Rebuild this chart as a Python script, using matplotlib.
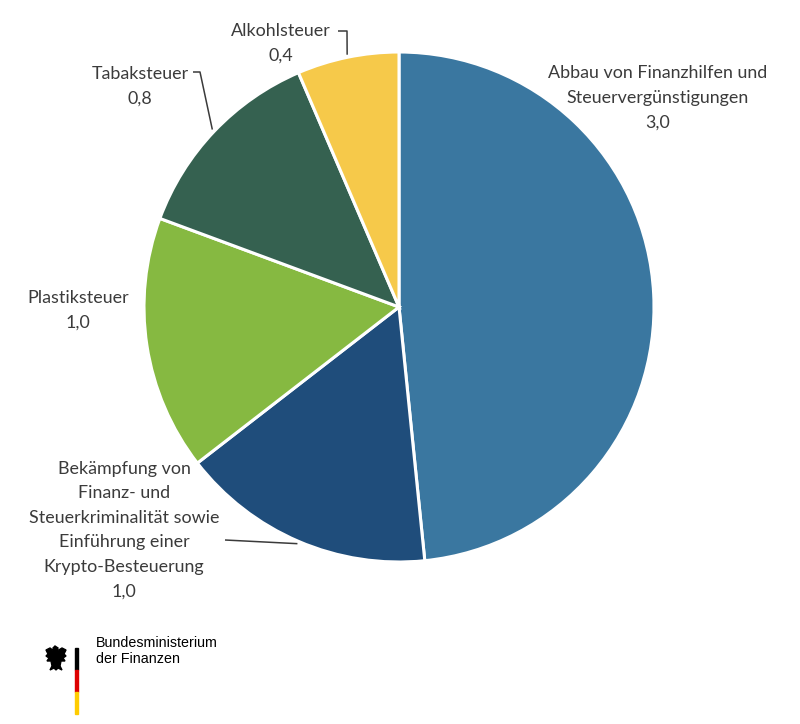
import numpy as np
import matplotlib
matplotlib.use("Agg")
import matplotlib.pyplot as plt
from matplotlib.patches import Polygon, Rectangle

# data (Mrd. Euro)
labels = [
    "Abbau von Finanzhilfen und\nSteuervergünstigungen",
    "Bekämpfung von\nFinanz- und\nSteuerkriminalität sowie\nEinführung einer\nKrypto-Besteuerung",
    "Plastiksteuer",
    "Tabaksteuer",
    "Alkohlsteuer",
]
values = [3.0, 1.0, 1.0, 0.8, 0.4]
colors = ["#3a77a0", "#1f4d7b", "#86b941", "#356150", "#f6c94a"]

W, H = 800, 724
fig = plt.figure(figsize=(W / 100, H / 100), dpi=100)

cx, cy, R = 399, 307, 255
ax = fig.add_axes([(cx - R) / W, (H - cy - R) / H, 2 * R / W, 2 * R / H])

wedges, _ = ax.pie(values, colors=colors, startangle=90, counterclock=False,
                   radius=1, wedgeprops=dict(edgecolor="white", linewidth=2.2))
ax.set_xlim(-1, 1)
ax.set_ylim(-1, 1)
ax.set_aspect("equal")
ax.axis("off")


def px(x, y):
    # pixel position in the picture -> data coords of the pie axes
    return (x - cx) / R, (cy - y) / R


def edge(w, r=1.0):
    a = np.deg2rad((w.theta1 + w.theta2) / 2)
    return r * np.cos(a), r * np.sin(a)


txt = dict(fontsize=12.9, color="#3b3b3b", family=["Lato", "DejaVu Sans"],
           ha="center", va="center", linespacing=1.66, clip_on=False)
fmt = lambda v: f"{v:.1f}".replace(".", ",")

label_pos = [px(658, 98), px(124, 530), px(78, 310), px(140, 86), px(281, 43)]
for lab, v, pos in zip(labels, values, label_pos):
    ax.text(pos[0], pos[1], f"{lab}\n{fmt(v)}", **txt)

lk = dict(color="#3b3b3b", lw=1.1, clip_on=False, solid_capstyle="butt")
# Alkohlsteuer leader
ex, ey = edge(wedges[4], 1.01)
p0, p1 = px(338, 31), px(347, 31)
ax.plot([p0[0], p1[0], ex], [p0[1], p1[1], ey], **lk)
# Tabaksteuer leader
ex, ey = edge(wedges[3], 1.01)
p0, p1 = px(193, 72), px(200, 72)
ax.plot([p0[0], p1[0], ex], [p0[1], p1[1], ey], **lk)
# Bekämpfung leader
ex, ey = edge(wedges[1], 1.01)
p0 = px(225, 540)
ax.plot([p0[0], ex], [p0[1], ey], **lk)

# logo
fig.add_artist(Rectangle((75 / W, 1 - 670 / H), 3 / W, 22 / H, color="black",
                         transform=fig.transFigure))
fig.add_artist(Rectangle((75 / W, 1 - 692 / H), 3 / W, 22 / H, color="#dd0000",
                         transform=fig.transFigure))
fig.add_artist(Rectangle((75 / W, 1 - 714 / H), 3 / W, 22 / H, color="#ffcc00",
                         transform=fig.transFigure))
eagle = [(55, 646), (58, 648), (57, 651), (62, 648), (66, 650), (64, 654), (66, 656),
         (63, 658), (65, 661), (61, 661), (60, 666), (62, 670), (58, 668), (56, 670),
         (54, 668), (50, 670), (52, 666), (51, 661), (47, 661), (49, 658), (46, 656),
         (48, 654), (46, 650), (50, 648), (54, 651), (53, 648)]
fig.add_artist(Polygon([(x / W, 1 - y / H) for x, y in eagle], closed=True,
                       color="black", transform=fig.transFigure))
fig.text(96 / W, 1 - 651 / H, "Bundesministerium\nder Finanzen", fontsize=10.3,
         family=["Liberation Sans", "DejaVu Sans"], color="black",
         va="center", ha="left", linespacing=1.25)

fig.savefig("out.png", dpi=100, facecolor="white")
